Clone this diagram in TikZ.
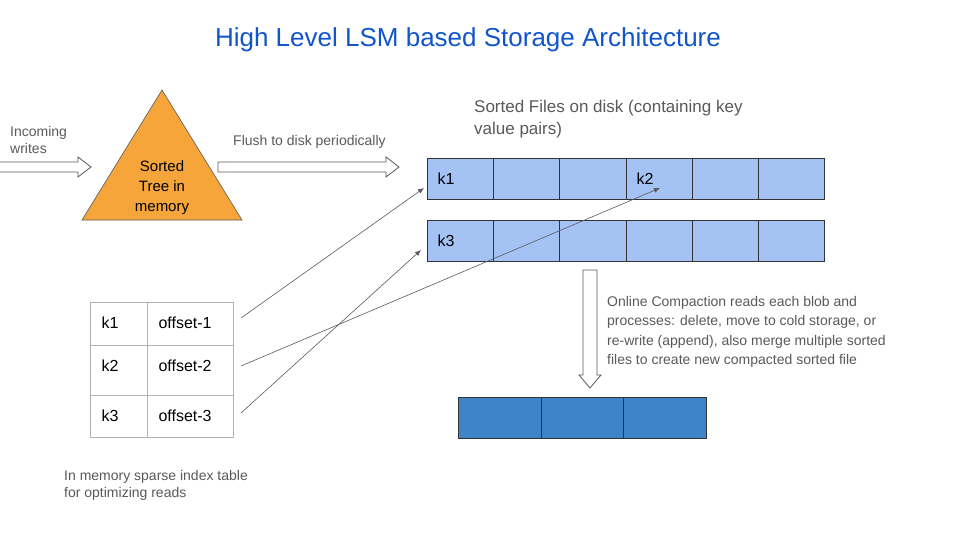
\documentclass[tikz,border=0pt]{standalone}
\usepackage{fontspec}
\setmainfont{Liberation Sans}
\usetikzlibrary{shapes.arrows,arrows.meta}
\definecolor{tblue}{HTML}{1155CC}
\definecolor{tgray}{HTML}{595959}
\definecolor{lblue}{HTML}{A4C2F4}
\definecolor{dblue}{HTML}{3D85C6}
\definecolor{orng}{HTML}{F6A53B}
\begin{document}
\begin{tikzpicture}[x=1pt,y=-1pt,
  lbl/.style={text=tgray,font=\fontsize{14}{17}\selectfont,align=left,inner sep=0},
  cell/.style={draw=black!80,line width=0.6pt,minimum width=66.2pt,minimum height=41pt,inner sep=0,anchor=north west},
  tcell/.style={draw=black!30,line width=0.6pt,inner sep=0,anchor=north west},
  ctext/.style={font=\fontsize{16}{19}\selectfont,text=black},
  link/.style={draw=tgray,line width=0.6pt,-{Latex[length=6pt,width=5pt]}},
  barrow/.style={draw=tgray,fill=white,line width=0.8pt}]
\useasboundingbox (0,0) rectangle (960,540);
\node[text=tblue,font=\fontsize{26}{30}\selectfont] (title) at (468,40) {High Level LSM based Storage Architecture};
\node[lbl,anchor=north west] (inc) at (10,126) {Incoming\\writes};
\draw[barrow] (0,162) -- (78,162) -- (78,157) -- (91,167) -- (78,177) -- (78,172) -- (0,172);
\draw[fill=orng,draw=tgray,line width=0.6pt] (162,90) -- (242,220) -- (82,220) -- cycle;
\node[ctext,align=center,font=\fontsize{15}{20}\selectfont] (tree) at (162,188) {Sorted\\Tree in\\memory};
\node[lbl,anchor=west] (flush) at (233,142) {Flush to disk periodically};
\draw[barrow] (218,162) -- (386,162) -- (386,157) -- (399,167) -- (386,177) -- (386,172) -- (218,172) -- cycle;
\node[text=tgray,font=\fontsize{17}{22}\selectfont,align=left,anchor=north west,inner sep=0] (sf) at (474,100) {Sorted Files on disk (containing key\\value pairs)};
\foreach \i in {0,...,5}{
  \node[cell,fill=lblue] (a\i) at (427+\i*66.2,158) {};
  \node[cell,fill=lblue] (b\i) at (427+\i*66.2,220) {};
}
\node[ctext,anchor=west] (k1t) at (434,179) {k1};
\node[ctext,anchor=west] (k2t) at (633,179) {k2};
\node[ctext,anchor=west] (k3t) at (434,241) {k3};
\draw[barrow] (583,270) -- (597,270) -- (597,375) -- (601,375) -- (590,388) -- (579,375) -- (583,375) -- cycle;
\node[lbl,anchor=north west,font=\fontsize{14}{19.5}\selectfont] (oc) at (607,296) {Online Compaction reads each blob and\\processes: delete, move to cold storage, or\\re-write (append), also merge multiple sorted\\files to create new compacted sorted file};
\foreach \i in {0,1,2}{
  \node[cell,fill=dblue,minimum width=82.7pt] (c\i) at (458+\i*82.7,397) {};
}
\node[tcell,minimum width=57pt,minimum height=43pt] (t1a) at (90,302) {};
\node[tcell,minimum width=86pt,minimum height=43pt] (t1b) at (147,302) {};
\node[tcell,minimum width=57pt,minimum height=50pt] (t2a) at (90,345) {};
\node[tcell,minimum width=86pt,minimum height=50pt] (t2b) at (147,345) {};
\node[tcell,minimum width=57pt,minimum height=42pt] (t3a) at (90,395) {};
\node[tcell,minimum width=86pt,minimum height=42pt] (t3b) at (147,395) {};
\node[ctext,anchor=west] at (98,323) {k1};
\node[ctext,anchor=west] at (98,366) {k2};
\node[ctext,anchor=west] at (98,416) {k3};
\node[ctext,anchor=west] (o1) at (155,323) {offset-1};
\node[ctext,anchor=west] (o2) at (155,366) {offset-2};
\node[ctext,anchor=west] (o3) at (155,416) {offset-3};
\coordinate (e1) at (424,188);
\coordinate (e2) at (660,188);
\coordinate (e3) at (421,250);
\draw[link] (241,318) -- (e1);
\draw[link] (241,366) -- (e2);
\draw[link] (241,413) -- (e3);
\node[lbl,anchor=north west] (ix) at (64,470) {In memory sparse index table\\for optimizing reads};
\end{tikzpicture}
\end{document}
